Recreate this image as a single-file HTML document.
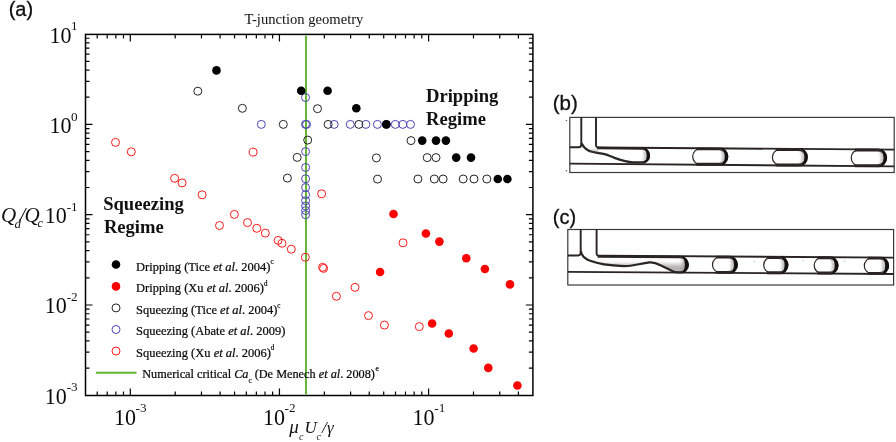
<!DOCTYPE html>
<html><head><meta charset="utf-8"><style>
html,body{margin:0;padding:0;background:#fff;}
svg{display:block;}
</style></head><body>
<svg width="896" height="442" viewBox="0 0 896 442">
<defs><filter id="bl" x="-50%" y="-50%" width="200%" height="200%"><feGaussianBlur stdDeviation="0.9"/></filter><linearGradient id="dr" x1="0" x2="1" y1="0" y2="0">
<stop offset="0" stop-color="#fff"/><stop offset="0.8" stop-color="#fff"/><stop offset="1" stop-color="#aaa"/></linearGradient>
<linearGradient id="th" gradientUnits="userSpaceOnUse" x1="0" x2="0" y1="257" y2="267"><stop offset="0" stop-color="#fff"/><stop offset="0.45" stop-color="#fafafa"/><stop offset="1" stop-color="#b5b5b5"/></linearGradient></defs>
<path d="M97.21 395.50v-4.0M97.21 34.40v4.0M107.20 395.50v-4.0M107.20 34.40v4.0M115.85 395.50v-4.0M115.85 34.40v4.0M123.48 395.50v-4.0M123.48 34.40v4.0M130.30 395.50v-7.0M130.30 34.40v7.0M175.20 395.50v-4.0M175.20 34.40v4.0M201.46 395.50v-4.0M201.46 34.40v4.0M220.10 395.50v-4.0M220.10 34.40v4.0M234.55 395.50v-4.0M234.55 34.40v4.0M246.36 395.50v-4.0M246.36 34.40v4.0M256.35 395.50v-4.0M256.35 34.40v4.0M265.00 395.50v-4.0M265.00 34.40v4.0M272.63 395.50v-4.0M272.63 34.40v4.0M279.45 395.50v-7.0M279.45 34.40v7.0M324.35 395.50v-4.0M324.35 34.40v4.0M350.61 395.50v-4.0M350.61 34.40v4.0M369.25 395.50v-4.0M369.25 34.40v4.0M383.70 395.50v-4.0M383.70 34.40v4.0M395.51 395.50v-4.0M395.51 34.40v4.0M405.50 395.50v-4.0M405.50 34.40v4.0M414.15 395.50v-4.0M414.15 34.40v4.0M421.78 395.50v-4.0M421.78 34.40v4.0M428.60 395.50v-7.0M428.60 34.40v7.0M473.50 395.50v-4.0M473.50 34.40v4.0M499.76 395.50v-4.0M499.76 34.40v4.0M518.40 395.50v-4.0M518.40 34.40v4.0M85.50 368.12h4.0M532.90 368.12h-4.0M85.50 352.22h4.0M532.90 352.22h-4.0M85.50 340.93h4.0M532.90 340.93h-4.0M85.50 332.18h4.0M532.90 332.18h-4.0M85.50 325.03h4.0M532.90 325.03h-4.0M85.50 318.99h4.0M532.90 318.99h-4.0M85.50 313.75h4.0M532.90 313.75h-4.0M85.50 309.13h4.0M532.90 309.13h-4.0M85.50 305.00h7.0M532.90 305.00h-7.0M85.50 277.82h4.0M532.90 277.82h-4.0M85.50 261.92h4.0M532.90 261.92h-4.0M85.50 250.63h4.0M532.90 250.63h-4.0M85.50 241.88h4.0M532.90 241.88h-4.0M85.50 234.73h4.0M532.90 234.73h-4.0M85.50 228.69h4.0M532.90 228.69h-4.0M85.50 223.45h4.0M532.90 223.45h-4.0M85.50 218.83h4.0M532.90 218.83h-4.0M85.50 214.70h7.0M532.90 214.70h-7.0M85.50 187.52h4.0M532.90 187.52h-4.0M85.50 171.62h4.0M532.90 171.62h-4.0M85.50 160.33h4.0M532.90 160.33h-4.0M85.50 151.58h4.0M532.90 151.58h-4.0M85.50 144.43h4.0M532.90 144.43h-4.0M85.50 138.39h4.0M532.90 138.39h-4.0M85.50 133.15h4.0M532.90 133.15h-4.0M85.50 128.53h4.0M532.90 128.53h-4.0M85.50 124.40h7.0M532.90 124.40h-7.0M85.50 97.22h4.0M532.90 97.22h-4.0M85.50 81.32h4.0M532.90 81.32h-4.0M85.50 70.03h4.0M532.90 70.03h-4.0M85.50 61.28h4.0M532.90 61.28h-4.0M85.50 54.13h4.0M532.90 54.13h-4.0M85.50 48.09h4.0M532.90 48.09h-4.0M85.50 42.85h4.0M532.90 42.85h-4.0M85.50 38.23h4.0M532.90 38.23h-4.0" stroke="#000" stroke-width="1.2" fill="none"/>
<rect x="85.5" y="34.4" width="447.4" height="361.1" fill="none" stroke="#000" stroke-width="1.5"/>
<line x1="306" y1="35.4" x2="306" y2="394.5" stroke="#5fb32c" stroke-width="1.9"/>
<circle cx="115.5" cy="142.40" r="4.0" fill="none" stroke="#ff1a1a" stroke-width="1.0"/>
<circle cx="131.3" cy="151.80" r="4.0" fill="none" stroke="#ff1a1a" stroke-width="1.0"/>
<circle cx="174.6" cy="178.30" r="4.0" fill="none" stroke="#ff1a1a" stroke-width="1.0"/>
<circle cx="182.1" cy="182.90" r="4.0" fill="none" stroke="#ff1a1a" stroke-width="1.0"/>
<circle cx="202.1" cy="194.80" r="4.0" fill="none" stroke="#ff1a1a" stroke-width="1.0"/>
<circle cx="219.5" cy="225.50" r="4.0" fill="none" stroke="#ff1a1a" stroke-width="1.0"/>
<circle cx="234.4" cy="214.40" r="4.0" fill="none" stroke="#ff1a1a" stroke-width="1.0"/>
<circle cx="247.5" cy="222.60" r="4.0" fill="none" stroke="#ff1a1a" stroke-width="1.0"/>
<circle cx="253.2" cy="152.10" r="4.0" fill="none" stroke="#ff1a1a" stroke-width="1.0"/>
<circle cx="256.8" cy="228.30" r="4.0" fill="none" stroke="#ff1a1a" stroke-width="1.0"/>
<circle cx="265.3" cy="233.10" r="4.0" fill="none" stroke="#ff1a1a" stroke-width="1.0"/>
<circle cx="278.1" cy="240.40" r="4.0" fill="none" stroke="#ff1a1a" stroke-width="1.0"/>
<circle cx="282.0" cy="243.30" r="4.0" fill="none" stroke="#ff1a1a" stroke-width="1.0"/>
<circle cx="291.3" cy="249.20" r="4.0" fill="none" stroke="#ff1a1a" stroke-width="1.0"/>
<circle cx="305.3" cy="257.20" r="4.0" fill="none" stroke="#ff1a1a" stroke-width="1.0"/>
<circle cx="321.6" cy="193.80" r="4.0" fill="none" stroke="#ff1a1a" stroke-width="1.0"/>
<circle cx="322.6" cy="267.30" r="4.0" fill="none" stroke="#ff1a1a" stroke-width="1.0"/>
<circle cx="323.6" cy="268.40" r="4.0" fill="none" stroke="#ff1a1a" stroke-width="1.0"/>
<circle cx="336.4" cy="296.30" r="4.0" fill="none" stroke="#ff1a1a" stroke-width="1.0"/>
<circle cx="355.0" cy="287.40" r="4.0" fill="none" stroke="#ff1a1a" stroke-width="1.0"/>
<circle cx="368.5" cy="315.60" r="4.0" fill="none" stroke="#ff1a1a" stroke-width="1.0"/>
<circle cx="384.4" cy="325.10" r="4.0" fill="none" stroke="#ff1a1a" stroke-width="1.0"/>
<circle cx="403.0" cy="242.80" r="4.0" fill="none" stroke="#ff1a1a" stroke-width="1.0"/>
<circle cx="419.3" cy="326.60" r="4.0" fill="none" stroke="#ff1a1a" stroke-width="1.0"/>
<circle cx="393.5" cy="214.00" r="4.3" fill="#ff0000"/>
<circle cx="425.9" cy="233.50" r="4.3" fill="#ff0000"/>
<circle cx="439.4" cy="241.60" r="4.3" fill="#ff0000"/>
<circle cx="380.1" cy="272.00" r="4.3" fill="#ff0000"/>
<circle cx="466.3" cy="258.20" r="4.3" fill="#ff0000"/>
<circle cx="484.9" cy="269.00" r="4.3" fill="#ff0000"/>
<circle cx="510.0" cy="284.40" r="4.3" fill="#ff0000"/>
<circle cx="432.1" cy="323.50" r="4.3" fill="#ff0000"/>
<circle cx="448.8" cy="333.50" r="4.3" fill="#ff0000"/>
<circle cx="473.6" cy="348.50" r="4.3" fill="#ff0000"/>
<circle cx="488.3" cy="367.90" r="4.3" fill="#ff0000"/>
<circle cx="517.4" cy="385.50" r="4.3" fill="#ff0000"/>
<circle cx="305.5" cy="97.50" r="4.0" fill="none" stroke="#4a44b4" stroke-width="1.0"/>
<circle cx="261.3" cy="124.40" r="4.0" fill="none" stroke="#4a44b4" stroke-width="1.0"/>
<circle cx="305.5" cy="124.40" r="4.0" fill="none" stroke="#4a44b4" stroke-width="1.0"/>
<circle cx="306.5" cy="124.40" r="4.0" fill="none" stroke="#4a44b4" stroke-width="1.0"/>
<circle cx="334.2" cy="124.40" r="4.0" fill="none" stroke="#4a44b4" stroke-width="1.0"/>
<circle cx="350.3" cy="124.40" r="4.0" fill="none" stroke="#4a44b4" stroke-width="1.0"/>
<circle cx="365.9" cy="124.40" r="4.0" fill="none" stroke="#4a44b4" stroke-width="1.0"/>
<circle cx="377.4" cy="124.40" r="4.0" fill="none" stroke="#4a44b4" stroke-width="1.0"/>
<circle cx="386.4" cy="124.40" r="4.0" fill="none" stroke="#4a44b4" stroke-width="1.0"/>
<circle cx="395.3" cy="124.40" r="4.0" fill="none" stroke="#4a44b4" stroke-width="1.0"/>
<circle cx="402.8" cy="124.40" r="4.0" fill="none" stroke="#4a44b4" stroke-width="1.0"/>
<circle cx="410.5" cy="124.40" r="4.0" fill="none" stroke="#4a44b4" stroke-width="1.0"/>
<circle cx="305.6" cy="151.58" r="4.0" fill="none" stroke="#4a44b4" stroke-width="1.0"/>
<circle cx="305.6" cy="167.48" r="4.0" fill="none" stroke="#4a44b4" stroke-width="1.0"/>
<circle cx="305.6" cy="178.77" r="4.0" fill="none" stroke="#4a44b4" stroke-width="1.0"/>
<circle cx="305.6" cy="187.52" r="4.0" fill="none" stroke="#4a44b4" stroke-width="1.0"/>
<circle cx="305.6" cy="194.67" r="4.0" fill="none" stroke="#4a44b4" stroke-width="1.0"/>
<circle cx="305.6" cy="200.71" r="4.0" fill="none" stroke="#4a44b4" stroke-width="1.0"/>
<circle cx="305.6" cy="205.95" r="4.0" fill="none" stroke="#4a44b4" stroke-width="1.0"/>
<circle cx="305.6" cy="210.57" r="4.0" fill="none" stroke="#4a44b4" stroke-width="1.0"/>
<circle cx="305.6" cy="214.70" r="4.0" fill="none" stroke="#4a44b4" stroke-width="1.0"/>
<circle cx="197.8" cy="91.20" r="4.0" fill="none" stroke="#222" stroke-width="1.0"/>
<circle cx="242.4" cy="108.30" r="4.0" fill="none" stroke="#222" stroke-width="1.0"/>
<circle cx="317.5" cy="108.70" r="4.0" fill="none" stroke="#222" stroke-width="1.0"/>
<circle cx="283.3" cy="124.40" r="4.0" fill="none" stroke="#222" stroke-width="1.0"/>
<circle cx="328.1" cy="124.40" r="4.0" fill="none" stroke="#222" stroke-width="1.0"/>
<circle cx="358.9" cy="124.40" r="4.0" fill="none" stroke="#222" stroke-width="1.0"/>
<circle cx="307.7" cy="140.10" r="4.0" fill="none" stroke="#222" stroke-width="1.0"/>
<circle cx="297.2" cy="157.40" r="4.0" fill="none" stroke="#222" stroke-width="1.0"/>
<circle cx="376.4" cy="157.90" r="4.0" fill="none" stroke="#222" stroke-width="1.0"/>
<circle cx="287.4" cy="178.10" r="4.0" fill="none" stroke="#222" stroke-width="1.0"/>
<circle cx="377.5" cy="179.10" r="4.0" fill="none" stroke="#222" stroke-width="1.0"/>
<circle cx="411.0" cy="140.60" r="4.0" fill="none" stroke="#222" stroke-width="1.0"/>
<circle cx="427.2" cy="157.60" r="4.0" fill="none" stroke="#222" stroke-width="1.0"/>
<circle cx="436.0" cy="157.60" r="4.0" fill="none" stroke="#222" stroke-width="1.0"/>
<circle cx="417.9" cy="179.00" r="4.0" fill="none" stroke="#222" stroke-width="1.0"/>
<circle cx="434.3" cy="179.00" r="4.0" fill="none" stroke="#222" stroke-width="1.0"/>
<circle cx="443.1" cy="179.00" r="4.0" fill="none" stroke="#222" stroke-width="1.0"/>
<circle cx="463.2" cy="179.00" r="4.0" fill="none" stroke="#222" stroke-width="1.0"/>
<circle cx="474.0" cy="179.00" r="4.0" fill="none" stroke="#222" stroke-width="1.0"/>
<circle cx="486.8" cy="179.00" r="4.0" fill="none" stroke="#222" stroke-width="1.0"/>
<circle cx="216.5" cy="70.40" r="4.3" fill="#000"/>
<circle cx="301.2" cy="90.80" r="4.3" fill="#000"/>
<circle cx="327.6" cy="90.80" r="4.3" fill="#000"/>
<circle cx="356.3" cy="108.20" r="4.3" fill="#000"/>
<circle cx="386.3" cy="124.40" r="4.3" fill="#000"/>
<circle cx="422.2" cy="140.60" r="4.3" fill="#000"/>
<circle cx="436.0" cy="140.60" r="4.3" fill="#000"/>
<circle cx="445.9" cy="140.60" r="4.3" fill="#000"/>
<circle cx="456.2" cy="157.60" r="4.3" fill="#000"/>
<circle cx="471.0" cy="157.60" r="4.3" fill="#000"/>
<circle cx="497.8" cy="179.00" r="4.3" fill="#000"/>
<circle cx="507.4" cy="179.00" r="4.3" fill="#000"/>
<circle cx="116.0" cy="264.50" r="4.3" fill="#000"/>
<circle cx="116.0" cy="286.40" r="4.3" fill="#ff0000"/>
<circle cx="116.0" cy="307.90" r="4.0" fill="none" stroke="#222" stroke-width="1.0"/>
<circle cx="116.0" cy="329.50" r="4.0" fill="none" stroke="#4a44b4" stroke-width="1.0"/>
<circle cx="116.0" cy="351.00" r="4.0" fill="none" stroke="#ff1a1a" stroke-width="1.0"/>
<line x1="96" y1="372.7" x2="136.5" y2="372.7" stroke="#5fb32c" stroke-width="1.9"/>
<text transform="translate(136 270.6) scale(1 1.05)" font-family="Liberation Serif, serif" font-size="12.5" fill="#0a0a0a" stroke="#0a0a0a" stroke-width="0.22">Dripping (Tice <tspan font-style="italic">et al</tspan>. 2004)<tspan font-size="7" dy="-6">c</tspan></text>
<text transform="translate(136 292.3) scale(1 1.05)" font-family="Liberation Serif, serif" font-size="12.5" fill="#0a0a0a" stroke="#0a0a0a" stroke-width="0.22">Dripping (Xu <tspan font-style="italic">et al</tspan>. 2006)<tspan font-size="7" dy="-6">d</tspan></text>
<text transform="translate(136 313.9) scale(1 1.05)" font-family="Liberation Serif, serif" font-size="12.5" fill="#0a0a0a" stroke="#0a0a0a" stroke-width="0.22">Squeezing (Tice <tspan font-style="italic">et al</tspan>. 2004)<tspan font-size="7" dy="-6">c</tspan></text>
<text transform="translate(136 335.4) scale(1 1.05)" font-family="Liberation Serif, serif" font-size="12.5" fill="#0a0a0a" stroke="#0a0a0a" stroke-width="0.22">Squeezing (Abate <tspan font-style="italic">et al</tspan>. 2009)</text>
<text transform="translate(136 356.6) scale(1 1.05)" font-family="Liberation Serif, serif" font-size="12.5" fill="#0a0a0a" stroke="#0a0a0a" stroke-width="0.22">Squeezing (Xu <tspan font-style="italic">et al</tspan>. 2006)<tspan font-size="7" dy="-6">d</tspan></text>
<text transform="translate(142.2 378.2) scale(1 1.05)" font-family="Liberation Serif, serif" font-size="12.28" fill="#0a0a0a" stroke="#0a0a0a" stroke-width="0.22">Numerical critical <tspan font-style="italic">Ca</tspan><tspan font-size="7" dy="5">c</tspan><tspan dy="-5"> (De Menech </tspan><tspan font-style="italic">et al</tspan>. 2008)<tspan font-size="7.5" dx="0.5" dy="-6.5">e</tspan></text>
<text font-family="Liberation Serif, serif" font-weight="bold" font-size="18.6" fill="#111"><tspan x="426" y="101.8">Dripping</tspan><tspan x="426" y="125.2">Regime</tspan></text>
<text font-family="Liberation Serif, serif" font-weight="bold" font-size="18.6" fill="#111"><tspan x="103.2" y="209.9">Squeezing</tspan><tspan x="103.9" y="233.1">Regime</tspan></text>
<text x="244.4" y="24.3" font-family="Liberation Serif, serif" font-size="14.6" fill="#111">T-junction geometry</text>
<text transform="translate(49.4 42.50) scale(1 1.04)" font-family="Liberation Serif, serif" font-size="22" fill="#0a0a0a">10</text><text x="71.1" y="30.20000000000001" font-family="Liberation Serif, serif" font-size="13.2" fill="#111">1</text>
<text transform="translate(49.4 132.80) scale(1 1.04)" font-family="Liberation Serif, serif" font-size="22" fill="#0a0a0a">10</text><text x="71.1" y="120.5" font-family="Liberation Serif, serif" font-size="13.2" fill="#111">0</text>
<text transform="translate(44.8 223.10) scale(1 1.04)" font-family="Liberation Serif, serif" font-size="22" fill="#0a0a0a">10</text><text x="66.7" y="210.79999999999998" font-family="Liberation Serif, serif" font-size="13.2" fill="#111">-1</text>
<text transform="translate(44.8 313.40) scale(1 1.04)" font-family="Liberation Serif, serif" font-size="22" fill="#0a0a0a">10</text><text x="66.7" y="301.1" font-family="Liberation Serif, serif" font-size="13.2" fill="#111">-2</text>
<text transform="translate(44.8 403.70) scale(1 1.04)" font-family="Liberation Serif, serif" font-size="22" fill="#0a0a0a">10</text><text x="66.7" y="391.4" font-family="Liberation Serif, serif" font-size="13.2" fill="#111">-3</text>
<text transform="translate(114.1 424.60) scale(1 1.04)" font-family="Liberation Serif, serif" font-size="22" fill="#0a0a0a">10</text><text x="135.6" y="412.3" font-family="Liberation Serif, serif" font-size="13.2" fill="#111">-3</text>
<text transform="translate(263.1 424.60) scale(1 1.04)" font-family="Liberation Serif, serif" font-size="22" fill="#0a0a0a">10</text><text x="284.6" y="412.3" font-family="Liberation Serif, serif" font-size="13.2" fill="#111">-2</text>
<text transform="translate(412.4 424.60) scale(1 1.04)" font-family="Liberation Serif, serif" font-size="22" fill="#0a0a0a">10</text><text x="434.3" y="412.3" font-family="Liberation Serif, serif" font-size="13.2" fill="#111">-1</text>
<text x="1.0" y="221.5" font-family="Liberation Serif, serif" font-style="italic" fill="#111" font-size="21">Q</text>
<text x="14.4" y="227.7" font-family="Liberation Serif, serif" font-style="italic" fill="#111" font-size="13">d</text>
<text x="19.4" y="221.6" font-family="Liberation Serif, serif" font-style="italic" fill="#111" font-size="21">/</text>
<text x="24.5" y="221.5" font-family="Liberation Serif, serif" font-style="italic" fill="#111" font-size="21">Q</text>
<text x="37.6" y="226.7" font-family="Liberation Serif, serif" font-style="italic" fill="#111" font-size="12">c</text>
<text x="289.3" y="432.6" font-family="Liberation Serif, serif" font-style="italic" fill="#111" font-size="19">μ</text>
<text x="299.1" y="440" font-family="Liberation Serif, serif" font-style="italic" fill="#111" font-size="10">c</text>
<text x="304.4" y="433.1" font-family="Liberation Serif, serif" font-style="italic" fill="#111" font-size="17">U</text>
<text x="316.6" y="440" font-family="Liberation Serif, serif" font-style="italic" fill="#111" font-size="10">c</text>
<text x="322" y="433.1" font-family="Liberation Serif, serif" font-style="italic" fill="#111" font-size="17">/</text>
<text x="327.1" y="432.7" font-family="Liberation Serif, serif" font-style="italic" fill="#111" font-size="17">γ</text>
<text x="8.7" y="16.0" font-family="Liberation Sans, sans-serif" font-size="20" fill="#111" stroke="#111" stroke-width="0.3">(a)</text>
<text x="552.8" y="109.9" font-family="Liberation Sans, sans-serif" font-size="20.5" fill="#111" stroke="#111" stroke-width="0.3">(b)</text>
<text x="552.8" y="224.4" font-family="Liberation Sans, sans-serif" font-size="20" fill="#111" stroke="#111" stroke-width="0.3">(c)</text>
<rect x="569.8" y="117.4" width="324.4000000000001" height="55.099999999999994" fill="#fff" stroke="#3a3a3a" stroke-width="1.2"/><path d="M569.8 147.32H578.8Q581.3 147.32 581.3 144.32V117.4" fill="none" stroke="#2a2424" stroke-width="1.9"/><path d="M596 117.4V145.01Q596 147.81 599 147.53L894.2 149.60" fill="none" stroke="#2a2424" stroke-width="1.9"/><path d="M569.8 163.60L894.2 166.40" fill="none" stroke="#2a2424" stroke-width="1.9"/><path d="M597 148.0 L642.0 148.6 A6.900000000000006 6.900000000000006 0 0 1 642.0 162.4 L633 162.3 C628 162.1 622 160.5 615.2 158.1 C610 156.3 607 154.6 604.5 154.1 C598 152.8 591.5 152.3 588.4 150.5 C585.5 149 583 146.5 581.3 143 Z" fill="#fff"/><path d="M642.0 162.4 L633 162.3 C628 162.1 622 160.5 615.2 158.1 C610 156.3 607 154.6 604.5 154.1 C598 152.8 591.5 152.3 588.4 150.5 C585.5 149 583 146.5 581.3 143" fill="none" stroke="#2a2424" stroke-width="2.2"/><path d="M597 148.0 L642.0 148.6 A6.900000000000006 6.900000000000006 0 0 1 642.0 162.4" fill="none" stroke="#2a2424" stroke-width="2.4"/><path d="M642.00 149.80A5.70 5.70 0 0 1 642.00 161.20A1.96 5.70 0 0 0 642.00 149.80Z" fill="#999" opacity="0.6" filter="url(#bl)"/><path d="M642.00 147.40A8.10 8.10 0 0 1 642.00 163.60A4.70 8.10 0 0 0 642.00 147.40Z" fill="#151010" /><ellipse cx="594" cy="150.4" rx="5" ry="1.5" fill="#777" opacity="0.35" filter="url(#bl)"/><path d="M700.80 148.51H719.10A8.10 8.10 0 0 1 719.10 164.71H700.80A8.10 8.10 0 0 1 700.80 148.51Z" fill="#fff"/><path d="M696.35 148.91H719.10A7.70 7.70 0 0 1 719.10 164.31H696.35" fill="none" stroke="#2a2424" stroke-width="2.9"/><path d="M700.80 164.71A8.10 8.10 0 0 1 700.80 148.51" fill="none" stroke="#2a2424" stroke-width="1.2"/><path d="M719.10 149.71A6.90 6.90 0 0 1 719.10 163.51A2.94 6.90 0 0 0 719.10 149.71Z" fill="#999" opacity="0.6" filter="url(#bl)"/><path d="M719.10 147.31A9.30 9.30 0 0 1 719.10 165.91A5.70 9.30 0 0 0 719.10 147.31Z" fill="#151010" /><path d="M780.27 149.07H798.83A8.17 8.17 0 0 1 798.83 165.40H780.27A8.17 8.17 0 0 1 780.27 149.07Z" fill="#fff"/><path d="M775.77 149.47H798.83A7.77 7.77 0 0 1 798.83 165.00H775.77" fill="none" stroke="#2a2424" stroke-width="2.9"/><path d="M780.27 165.40A8.17 8.17 0 0 1 780.27 149.07" fill="none" stroke="#2a2424" stroke-width="1.2"/><path d="M798.83 150.27A6.97 6.97 0 0 1 798.83 164.20A3.01 6.97 0 0 0 798.83 150.27Z" fill="#999" opacity="0.6" filter="url(#bl)"/><path d="M798.83 147.87A9.37 9.37 0 0 1 798.83 166.60A5.77 9.37 0 0 0 798.83 147.87Z" fill="#151010" /><path d="M859.43 149.62H877.77A8.23 8.23 0 0 1 877.77 166.08H859.43A8.23 8.23 0 0 1 859.43 149.62Z" fill="#fff"/><path d="M854.90 150.02H877.77A7.83 7.83 0 0 1 877.77 165.68H854.90" fill="none" stroke="#2a2424" stroke-width="2.9"/><path d="M859.43 166.08A8.23 8.23 0 0 1 859.43 149.62" fill="none" stroke="#2a2424" stroke-width="1.2"/><path d="M877.77 150.82A7.03 7.03 0 0 1 877.77 164.88A3.07 7.03 0 0 0 877.77 150.82Z" fill="#999" opacity="0.6" filter="url(#bl)"/><path d="M877.77 148.42A9.43 9.43 0 0 1 877.77 167.28A5.83 9.43 0 0 0 877.77 148.42Z" fill="#151010" />
<rect x="567.8" y="229.5" width="325.80000000000007" height="55.5" fill="#fff" stroke="#3a3a3a" stroke-width="1.2"/><path d="M567.8 255.45H578.2Q580.7 255.45 580.7 252.45V229.5" fill="none" stroke="#2a2424" stroke-width="1.9"/><path d="M596.6 229.5V253.14Q596.6 255.94 599.6 255.66L893.6 257.60" fill="none" stroke="#2a2424" stroke-width="1.9"/><path d="M567.8 271.89L893.6 274.01" fill="none" stroke="#2a2424" stroke-width="1.9"/><path d="M597.5 256.6 L680.0 257.0 A7.699999999999989 7.699999999999989 0 0 1 680.0 272.4 L675 272.2 C671 270.5 667 268.5 662 266 C658 264 655 262 649.6 262.4 C640 263.5 633 266.3 624 266.2 C610 265.5 597 263.5 591 261 C586 259.5 582 257 580.7 251 Z" fill="url(#th)"/><path d="M680.0 272.4 L675 272.2 C671 270.5 667 268.5 662 266 C658 264 655 262 649.6 262.4 C640 263.5 633 266.3 624 266.2 C610 265.5 597 263.5 591 261 C586 259.5 582 257 580.7 251" fill="none" stroke="#2a2424" stroke-width="2.2"/><path d="M597.5 256.6 L680.0 257.0 A7.699999999999989 7.699999999999989 0 0 1 680.0 272.4" fill="none" stroke="#2a2424" stroke-width="2.4"/><path d="M680.00 258.20A6.50 6.50 0 0 1 680.00 271.20A2.10 6.50 0 0 0 680.00 258.20Z" fill="#999" opacity="0.6" filter="url(#bl)"/><path d="M680.00 255.80A8.90 8.90 0 0 1 680.00 273.60A4.90 8.90 0 0 0 680.00 255.80Z" fill="#151010" /><path d="M720.56 256.69H728.74A8.06 8.06 0 0 1 728.74 272.81H720.56A8.06 8.06 0 0 1 720.56 256.69Z" fill="#fff"/><path d="M716.13 257.09H728.74A7.66 7.66 0 0 1 728.74 272.41H716.13" fill="none" stroke="#2a2424" stroke-width="2.9"/><path d="M720.56 272.81A8.06 8.06 0 0 1 720.56 256.69" fill="none" stroke="#2a2424" stroke-width="1.2"/><path d="M728.74 257.89A6.86 6.86 0 0 1 728.74 271.61A2.46 6.86 0 0 0 728.74 257.89Z" fill="#999" opacity="0.6" filter="url(#bl)"/><path d="M728.74 255.49A9.26 9.26 0 0 1 728.74 274.01A5.26 9.26 0 0 0 728.74 255.49Z" fill="#151010" /><path d="M771.46 257.03H779.54A8.06 8.06 0 0 1 779.54 273.14H771.46A8.06 8.06 0 0 1 771.46 257.03Z" fill="#fff"/><path d="M767.03 257.43H779.54A7.66 7.66 0 0 1 779.54 272.74H767.03" fill="none" stroke="#2a2424" stroke-width="2.9"/><path d="M771.46 273.14A8.06 8.06 0 0 1 771.46 257.03" fill="none" stroke="#2a2424" stroke-width="1.2"/><path d="M779.54 258.23A6.86 6.86 0 0 1 779.54 271.94A2.46 6.86 0 0 0 779.54 258.23Z" fill="#999" opacity="0.6" filter="url(#bl)"/><path d="M779.54 255.83A9.26 9.26 0 0 1 779.54 274.34A5.26 9.26 0 0 0 779.54 255.83Z" fill="#151010" /><path d="M821.96 257.36H829.64A8.06 8.06 0 0 1 829.64 273.47H821.96A8.06 8.06 0 0 1 821.96 257.36Z" fill="#fff"/><path d="M817.53 257.76H829.64A7.66 7.66 0 0 1 829.64 273.07H817.53" fill="none" stroke="#2a2424" stroke-width="2.9"/><path d="M821.96 273.47A8.06 8.06 0 0 1 821.96 257.36" fill="none" stroke="#2a2424" stroke-width="1.2"/><path d="M829.64 258.56A6.86 6.86 0 0 1 829.64 272.27A2.46 6.86 0 0 0 829.64 258.56Z" fill="#999" opacity="0.6" filter="url(#bl)"/><path d="M829.64 256.16A9.26 9.26 0 0 1 829.64 274.67A5.26 9.26 0 0 0 829.64 256.16Z" fill="#151010" /><path d="M872.35 257.69H879.95A8.05 8.05 0 0 1 879.95 273.80H872.35A8.05 8.05 0 0 1 872.35 257.69Z" fill="#fff"/><path d="M867.92 258.09H879.95A7.65 7.65 0 0 1 879.95 273.40H867.92" fill="none" stroke="#2a2424" stroke-width="2.9"/><path d="M872.35 273.80A8.05 8.05 0 0 1 872.35 257.69" fill="none" stroke="#2a2424" stroke-width="1.2"/><path d="M879.95 258.89A6.85 6.85 0 0 1 879.95 272.60A2.45 6.85 0 0 0 879.95 258.89Z" fill="#999" opacity="0.6" filter="url(#bl)"/><path d="M879.95 256.49A9.25 9.25 0 0 1 879.95 275.00A5.25 9.25 0 0 0 879.95 256.49Z" fill="#151010" />
<circle cx="566.4" cy="120.4" r="0.7" fill="#555"/>
<circle cx="566.4" cy="170.7" r="0.7" fill="#555"/>
<circle cx="754.2" cy="261.3" r="0.6" fill="#999"/>
<circle cx="803.3" cy="260.6" r="0.6" fill="#aaa"/>
<circle cx="844.6" cy="261.3" r="0.6" fill="#aaa"/>
<circle cx="890" cy="281" r="0.5" fill="#ccc"/>
</svg></body></html>
